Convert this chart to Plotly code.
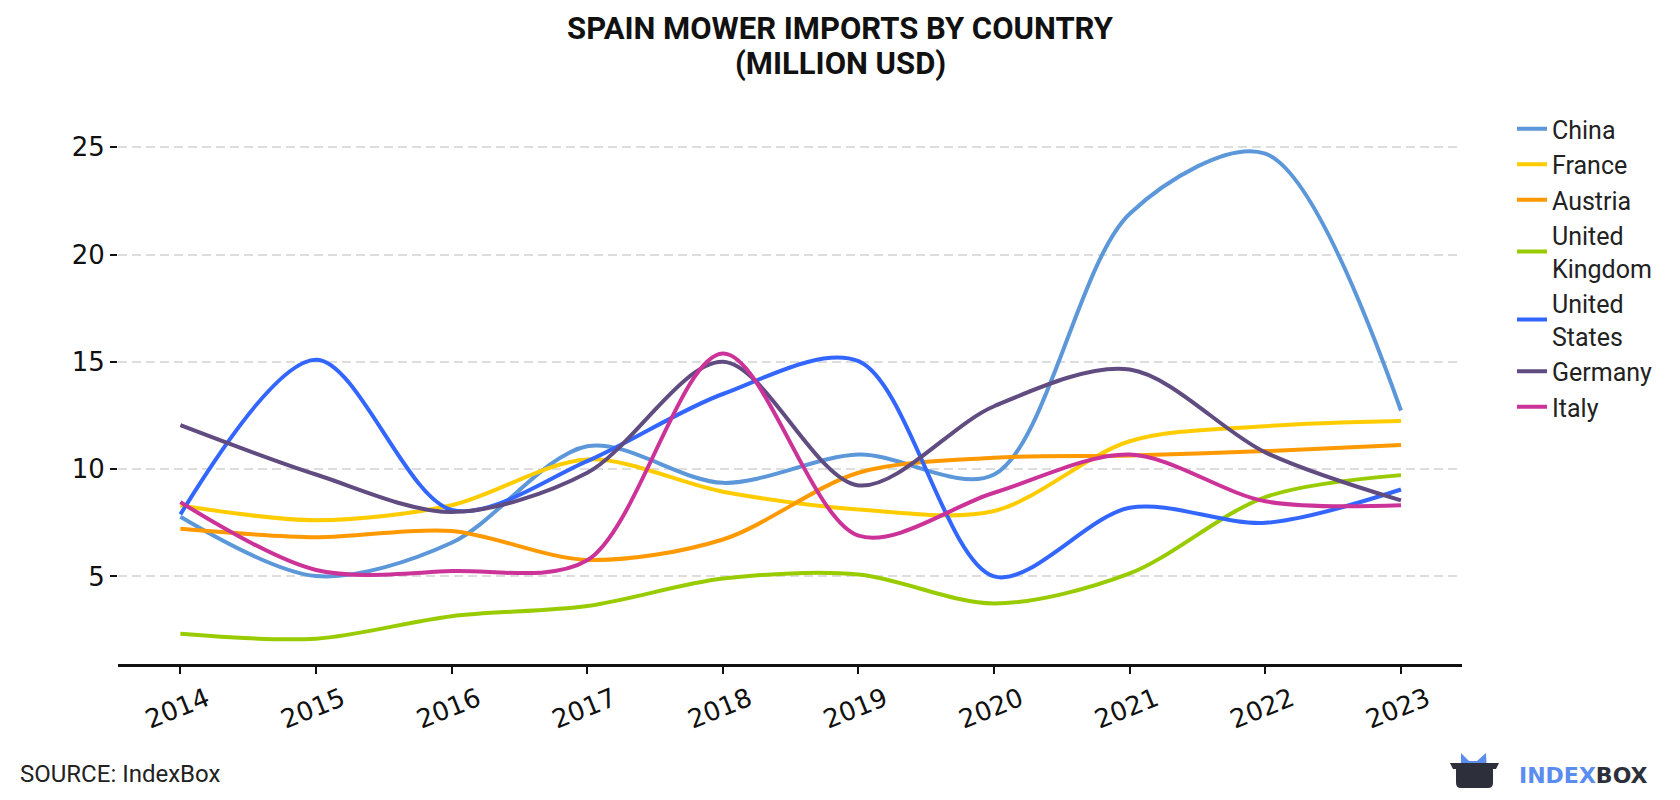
import plotly.graph_objects as go

years = [2014, 2015, 2016, 2017, 2018, 2019, 2020, 2021, 2022, 2023]
china = [7.78, 5.02, 6.57, 11.07, 9.36, 10.68, 9.75, 21.9, 24.7, 12.73]
france = [8.31, 7.62, 8.32, 10.45, 8.95, 8.12, 8.05, 11.3, 12.0, 12.24]
austria = [7.22, 6.83, 7.12, 5.77, 6.72, 9.83, 10.53, 10.64, 10.84, 11.12]
uk = [2.33, 2.1, 3.15, 3.62, 4.9, 5.09, 3.74, 5.14, 8.7, 9.72]
usa = [7.89, 15.1, 8.1, 10.37, 13.5, 15.03, 5.0, 8.2, 7.5, 9.05]
germany = [12.05, 9.75, 8.0, 9.83, 15.0, 9.24, 12.93, 14.64, 10.78, 8.54]
italy = [8.46, 5.3, 5.25, 5.75, 15.39, 6.9, 8.9, 10.68, 8.5, 8.32]

series = [
    ("China", china, "#5B97D9"),
    ("France", france, "#FFCC00"),
    ("Austria", austria, "#FF9900"),
    ("United<br>Kingdom", uk, "#99CC00"),
    ("United<br>States", usa, "#3366FF"),
    ("Germany", germany, "#604C80"),
    ("Italy", italy, "#CC3399"),
]

W, H = 1680, 800
ML, MR, MT, MB = 118, 218, 118, 136
PW, PH = W - ML - MR, H - MT - MB

def px(x, y):
    return (x - ML) / PW, (H - MB - y) / PH

def path(cmds):
    out = []
    for c in cmds:
        if isinstance(c, str):
            out.append(c)
        else:
            a, b = px(*c)
            out.append(f"{a:.5f},{b:.5f}")
    return " ".join(out)

fig = go.Figure()
for name, vals, col in series:
    fig.add_trace(go.Scatter(
        x=years, y=vals, name=name, mode="lines",
        line=dict(color=col, width=4, shape="spline", smoothing=0.9),
    ))

blue_path = path(["M", (1461, 774), "L", (1461, 753), "L", (1469, 761), "L", (1477, 761),
                  "L", (1486, 753), "L", (1487, 774), "Z"])
dark_path = path(["M", (1450, 763), "L", (1499, 763), "L", (1496, 769), "L", (1493, 769),
                  "L", (1493, 783), "Q", (1493, 788), (1488, 788), "L", (1461, 788),
                  "Q", (1456, 788), (1456, 783), "L", (1456, 769), "L", (1453, 769), "Z"])

fig.update_layout(
    width=W, height=H,
    margin=dict(l=ML, r=MR, t=MT, b=MB),
    paper_bgcolor="white", plot_bgcolor="white",
    title=dict(
        text="<b>SPAIN MOWER IMPORTS BY COUNTRY</b>",
        x=0.5, xanchor="center", xref="container",
        y=1 - 28 / H, yanchor="middle",
        font=dict(family="Roboto", size=31, color="#111111"),
    ),
    showlegend=True,
    legend=dict(
        x=(1512 - ML) / PW, xanchor="left", y=1 + 12 / PH, yanchor="top",
        font=dict(family="Roboto", size=25, color="#222222"),
        bgcolor="rgba(0,0,0,0)", tracegroupgap=0,
    ),
    xaxis=dict(
        range=[2013.54, 2023.45], tickmode="array", tickvals=years,
        ticktext=[str(y) for y in years], tickangle=-22, ticklabelshift=26,
        tickfont=dict(family="DejaVu Sans", size=26, color="#111111"),
        showline=True, linecolor="#111111", linewidth=3,
        ticks="outside", ticklen=7, tickwidth=2, tickcolor="#111111",
        showgrid=False, zeroline=False,
    ),
    yaxis=dict(
        range=[0.92, 26.36], tickvals=[5, 10, 15, 20, 25],
        tickfont=dict(family="DejaVu Sans", size=26, color="#111111"),
        showline=False, ticks="outside", ticklen=7, tickwidth=2, tickcolor="#111111",
        showgrid=True, gridcolor="#DDDDDD", gridwidth=2, griddash="9px,5px",
        zeroline=False,
    ),
    shapes=[
        dict(type="path", xref="paper", yref="paper", path=blue_path,
             fillcolor="#5B8DEF", line=dict(width=0)),
        dict(type="path", xref="paper", yref="paper", path=dark_path,
             fillcolor="#2D2F3A", line=dict(width=0)),
    ],
    annotations=[
        dict(text="<b>(MILLION USD)</b>", xref="paper", yref="paper",
             x=px(W / 2, 0)[0], y=px(0, 64)[1], xanchor="center", yanchor="middle",
             showarrow=False, font=dict(family="Roboto", size=31, color="#111111")),
        dict(text="SOURCE: IndexBox", xref="paper", yref="paper",
             x=px(18, 0)[0], y=px(0, 774)[1], xanchor="left", yanchor="middle",
             showarrow=False, font=dict(family="Roboto", size=24, color="#222222")),
        dict(text="<b><span style='color:#5B8DEF'>INDEX</span><span style='color:#2D2F3A'>BOX</span></b>",
             xref="paper", yref="paper", x=px(1517, 0)[0], y=px(0, 775)[1],
             xanchor="left", yanchor="middle", showarrow=False,
             font=dict(family="DejaVu Sans", size=22, color="#2D2F3A")),
    ],
)

fig.write_html("out.html")
